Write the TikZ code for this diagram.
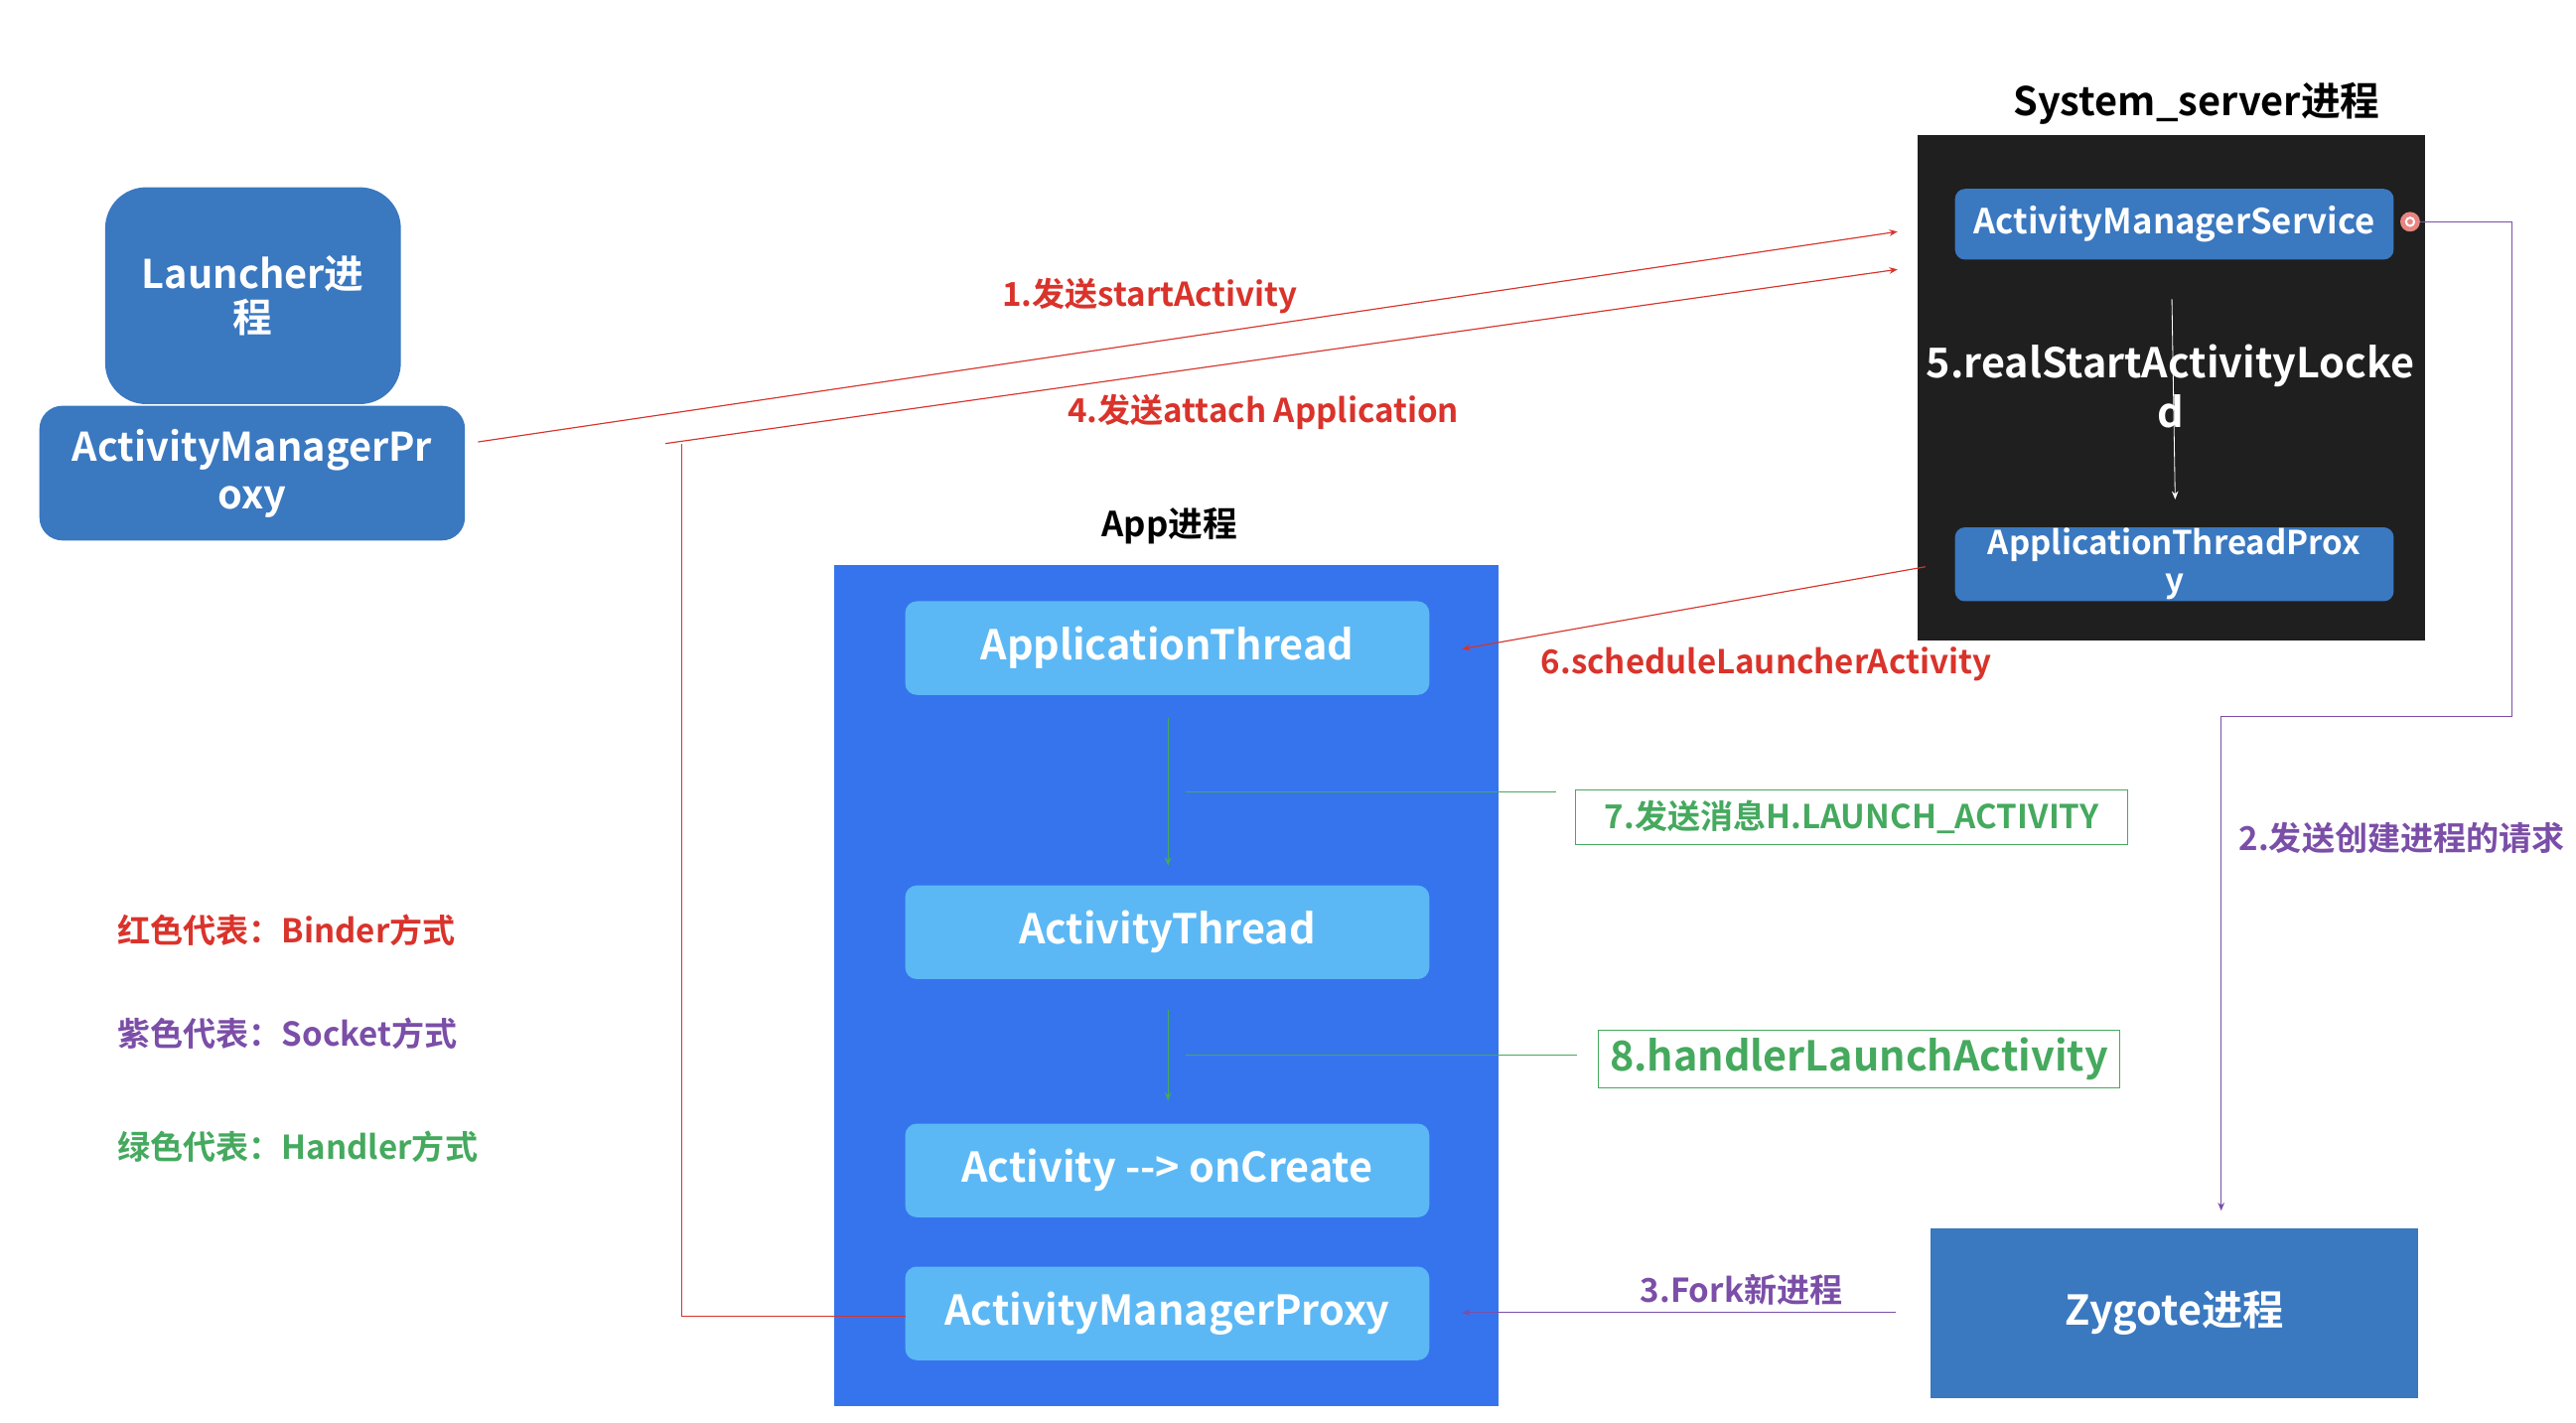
\documentclass[tikz,border=0pt]{standalone}
\usepackage{fontspec}
\setmainfont{Noto Sans CJK SC}[BoldFont={Noto Sans CJK SC Bold}]
\usetikzlibrary{arrows.meta}
\definecolor{myred}{HTML}{D9332B}
\definecolor{mypurple}{HTML}{7B4EA8}
\definecolor{mygreen}{HTML}{45A95E}
\definecolor{midblue}{HTML}{3A78C0}
\definecolor{appblue}{HTML}{3674EE}
\definecolor{lightblue}{HTML}{5BB8F5}
\begin{document}
\begin{tikzpicture}[x=1pt,y=-1pt,
  box/.style={fill=midblue,draw=none,text=white,font=\bfseries\fontsize{24}{26}\selectfont,align=center},
  inner/.style={fill=lightblue,rounded corners=7pt,minimum width=319pt,minimum height=57pt,text=white,font=\bfseries\fontsize{25}{28}\selectfont},
  lab/.style={font=\bfseries\fontsize{20}{22}\selectfont},
  arr/.style={-{Stealth[length=5pt,width=4pt]},line width=0.7pt}]
\useasboundingbox (0,0) rectangle (1568,866);
\fill[white] (0,0) rectangle (1568,866);
% Launcher
\node[box,rounded corners=25pt,minimum width=180pt,minimum height=132pt] (launcher) at (154,180) {};
\node[text=white,font=\bfseries\fontsize{24}{27}\selectfont,align=center] at (154,180) {Launcher进\\程};
\node[box,rounded corners=14pt,minimum width=259pt,minimum height=82pt,font=\bfseries\fontsize{24}{29}\selectfont] (amp1) at (153.5,288) {ActivityManagerPr\\oxy};
% System server
\node[font=\bfseries\fontsize{24}{26}\selectfont] (sstitle) at (1337,63) {System\_server进程};
\fill[black!88] (1167,82) rectangle (1476,390);
\node[box,rounded corners=6pt,minimum width=267pt,minimum height=43pt,font=\bfseries\fontsize{21}{24}\selectfont] (ams) at (1323.5,136.5) {ActivityManagerService};
\node[box,rounded corners=6pt,minimum width=267pt,minimum height=45pt,font=\bfseries\fontsize{20}{23}\selectfont,inner sep=0pt] (atp) at (1323.5,343.5) {ApplicationThreadProx\\y};
\coordinate (s5a) at (1322,182); \coordinate (s5b) at (1324,304);
\draw[arr,white,line width=0.5pt] (s5a) -- (s5b);
\node[text=white,font=\bfseries\fontsize{25}{30}\selectfont,align=center] (l5) at (1321,235) {5.realStartActivityLocke\\d};
\fill[myred!60] (1467,135) circle (6pt);
\draw[white,line width=1.2pt] (1467,135) circle (2.5pt);
\coordinate (dot) at (1473,135);
% App process
\node[font=\bfseries\fontsize{21}{22}\selectfont] (apptitle) at (712,320) {App进程};
\fill[appblue] (508,344) rectangle (912,856);
\node[inner] (at) at (710.5,394.5) {ApplicationThread};
\node[inner] (acth) at (710.5,567.5) {ActivityThread};
\node[inner] (oncr) at (710.5,712.5) {Activity {-}{-}> onCreate};
\node[inner] (amp2) at (710.5,799.5) {ActivityManagerProxy};
% green
\draw[arr,mygreen,line width=0.5pt] (711,437) -- (711,527);
\draw[arr,mygreen,line width=0.5pt] (711,615) -- (711,670);
\node[draw=mygreen,text=mygreen,lab,minimum width=336pt,minimum height=33pt,inner sep=0pt] (l7) at (1127,497.5) {7.发送消息H.LAUNCH\_ACTIVITY};
\node[draw=mygreen,text=mygreen,font=\bfseries\fontsize{25}{27}\selectfont,minimum width=317pt,minimum height=35pt,inner sep=0pt] (l8) at (1131.5,644.5) {8.handlerLaunchActivity};
\draw[mygreen,line width=0.5pt] (722,482) -- (947,482);
\draw[mygreen,line width=0.5pt] (722,642) -- (960,642);
% Zygote
\node[box,minimum width=297pt,minimum height=103pt,font=\bfseries\fontsize{25}{28}\selectfont] (zyg) at (1323.5,799.5) {Zygote进程};
% red arrows
\coordinate (r1a) at (291,269); \coordinate (r1b) at (1155,141);
\draw[arr,myred] (r1a) -- (r1b);
\node[lab,text=myred] at (700,180) {1.发送startActivity};
\coordinate (r4a) at (551,801); \coordinate (r4b) at (415,801); \coordinate (r4c) at (415,270);
\coordinate (r4d) at (405,270); \coordinate (r4e) at (1155,164);
\draw[myred,line width=0.7pt] (r4a) -- (r4b) -- (r4c);
\draw[arr,myred] (r4d) -- (r4e);
\node[lab,text=myred] at (769,251) {4.发送attach Application};
\coordinate (r6a) at (1172,345); \coordinate (r6b) at (890,395);
\draw[arr,myred] (r6a) -- (r6b);
\node[lab,text=myred] at (1075,404) {6.scheduleLauncherActivity};
% purple
\coordinate (p1) at (1529,135); \coordinate (p2) at (1529,436); \coordinate (p3) at (1352,436); \coordinate (p4) at (1352,737);
\draw[arr,mypurple,line width=0.5pt] (dot) -- (p1) -- (p2) -- (p3) -- (p4);
\node[lab,text=mypurple] at (1462,510) {2.发送创建进程的请求};
\coordinate (p5) at (1154,799); \coordinate (p6) at (890,799);
\draw[arr,mypurple,line width=0.5pt] (p5) -- (p6);
\node[lab,text=mypurple] at (1060,785) {3.Fork新进程};
% legend
\node[lab,text=myred,anchor=west] at (68,566) {红色代表：Binder方式};
\node[lab,text=mypurple,anchor=west] at (68,629) {紫色代表：Socket方式};
\node[lab,text=mygreen,anchor=west] at (68,698) {绿色代表：Handler方式};
\end{tikzpicture}
\end{document}
